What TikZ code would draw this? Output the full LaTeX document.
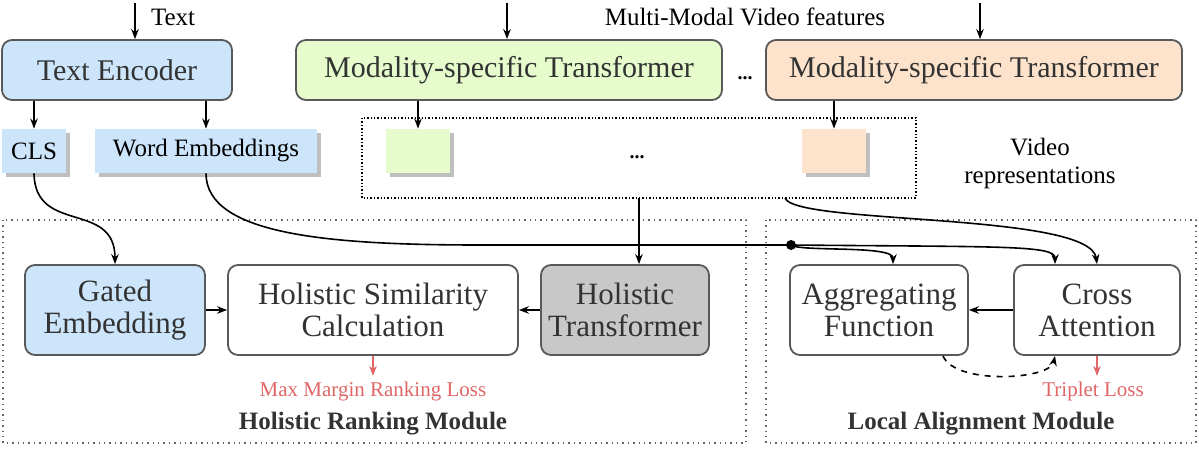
\documentclass[tikz,border=0pt]{standalone}
\usepackage{fontspec}
\setmainfont{Liberation Serif}
\usetikzlibrary{arrows.meta,shadows}
\definecolor{tblue}{HTML}{CCE5FB}
\definecolor{tgreen}{HTML}{E6FCCC}
\definecolor{torange}{HTML}{FDE3CB}
\definecolor{tgray}{HTML}{C8C8C8}
\definecolor{tred}{HTML}{E06666}
\begin{document}
\begin{tikzpicture}[x=0.5pt,y=-0.5pt,
  box/.style={draw=black!65, line width=0.9pt, rounded corners=5pt, align=center, inner sep=0pt, text=black!80},
  flat/.style={inner sep=0pt, align=center, drop shadow={shadow xshift=2pt, shadow yshift=-2pt, fill=black!25, opacity=1}},
  arr/.style={-{Stealth[length=5pt]}, line width=0.8pt},
  mod/.style={draw=black!60, dotted, line width=0.7pt},
  big/.style={font=\fontsize{15.5}{16}\selectfont},
  mid/.style={font=\fontsize{15}{16}\selectfont},
  small/.style={font=\fontsize{12.5}{14}\selectfont},
]
\useasboundingbox (0,0) rectangle (1199,449);
% module frames
\draw[mod] (3,220) rectangle (746,443);
\draw[mod] (766,220) rectangle (1196,443);
\node[font=\bfseries\fontsize{12.5}{13}\selectfont, text=black!80] (hrm) at (373,424) {Holistic Ranking Module};
\node[font=\bfseries\fontsize{12.5}{13}\selectfont, text=black!80] (lam) at (981,424) {Local Alignment Module};
% top row
\node[box, fill=tblue, minimum width=115pt, minimum height=30pt, mid] (te) at (117,70) {Text Encoder};
\node[box, fill=tgreen, minimum width=213pt, minimum height=30pt, mid] (gt) at (509,70) {Modality-specific Transformer};
\node[box, fill=torange, minimum width=208pt, minimum height=30pt, mid] (ot) at (974,70) {Modality-specific Transformer};
\node[font=\bfseries] (dots1) at (745,78) {...};
\coordinate (tin) at (135,3);
\coordinate (gin) at (507,3);
\coordinate (oin) at (980,3);
\draw[arr] (tin) -- (te.north -| tin);
\draw[arr] (gin) -- (gt.north -| gin);
\draw[arr] (oin) -- (ot.north -| oin);
\node[small, anchor=west] (txt) at (144,17) {Text};
\node[small] (mmv) at (745,17) {Multi-Modal Video features};
% embeddings
\node[flat, fill=tblue, minimum width=32pt, minimum height=22pt, small] (cls) at (34,151) {CLS};
\node[flat, fill=tblue, minimum width=111pt, minimum height=22pt, small] (we) at (206,151) {Word Embeddings};
\draw[arr] (te.south -| cls) -- (cls);
\draw[arr] (te.south -| we) -- (we);
% video representations
\draw[mod, draw=black, densely dotted, line width=0.9pt] (362,118) rectangle (916,198);
\coordinate (vr) at (639,198);
\coordinate (vr2) at (785,198);
\node[flat, fill=tgreen, minimum width=32pt, minimum height=22pt] (gs) at (418,151) {};
\node[flat, fill=torange, minimum width=32pt, minimum height=22pt] (os) at (834,151) {};
\node[font=\bfseries] (dots2) at (637,157) {...};
\draw[arr] (gt.south -| gs) -- (gs.north);
\draw[arr] (ot.south -| os) -- (os.north);
\node[small, align=center] (vrl) at (1040,163) {Video\\representations};
% lower boxes
\node[box, fill=tblue, minimum width=90pt, minimum height=45pt, big] (ge) at (115,310) {Gated\\Embedding};
\node[box, fill=white, minimum width=145pt, minimum height=45pt, big] (hs) at (373,310) {Holistic Similarity\\Calculation};
\node[box, fill=tgray, minimum width=84pt, minimum height=45pt, big] (ht) at (625,310) {Holistic\\Transformer};
\node[box, fill=white, minimum width=89pt, minimum height=45pt, big] (af) at (879,310) {Aggregating\\Function};
\node[box, fill=white, minimum width=83pt, minimum height=45pt, big] (ca) at (1097,310) {Cross\\Attention};
\draw[arr] (ge) -- (hs);
\draw[arr] (ht) -- (hs);
\draw[arr] (ca) -- (af);
% connections
\draw[arr] (cls.south) .. controls (35,235) and (115,200) .. (ge.north -| 115,0);
\draw[arr] (vr) -- (ht.north -| vr);
\coordinate (dot) at (791,245);
\fill (dot) circle (2.5pt);
\draw[line width=0.8pt] (we.south) .. controls (206,235) and (330,245) .. (480,245) -- (dot);
\draw[arr] (dot) .. controls (1000,247) and (1055,245) .. (ca.north -| 1055,0);
\draw[arr] (dot) .. controls (800,252) and (893,245) .. (af.north -| 893,0);
\draw[arr] (vr2) .. controls (795,225) and (1090,212) .. (ca.north -| 1097,0);
\draw[arr, dashed] (af.south -| 943,0) .. controls (955,385) and (1050,380) .. (ca.south -| 1055,0);
% losses
\draw[arr, tred] (hs.south) -- ++(0,20) coordinate (l1);
\node[tred, font=\fontsize{10.5}{11}\selectfont] (mml) at (373,391) {Max Margin Ranking Loss};
\draw[arr, tred] (ca.south) -- ++(0,20) coordinate (l2);
\node[tred, font=\fontsize{10.5}{11}\selectfont] (tl) at (1093,391) {Triplet Loss};
\end{tikzpicture}
\end{document}
